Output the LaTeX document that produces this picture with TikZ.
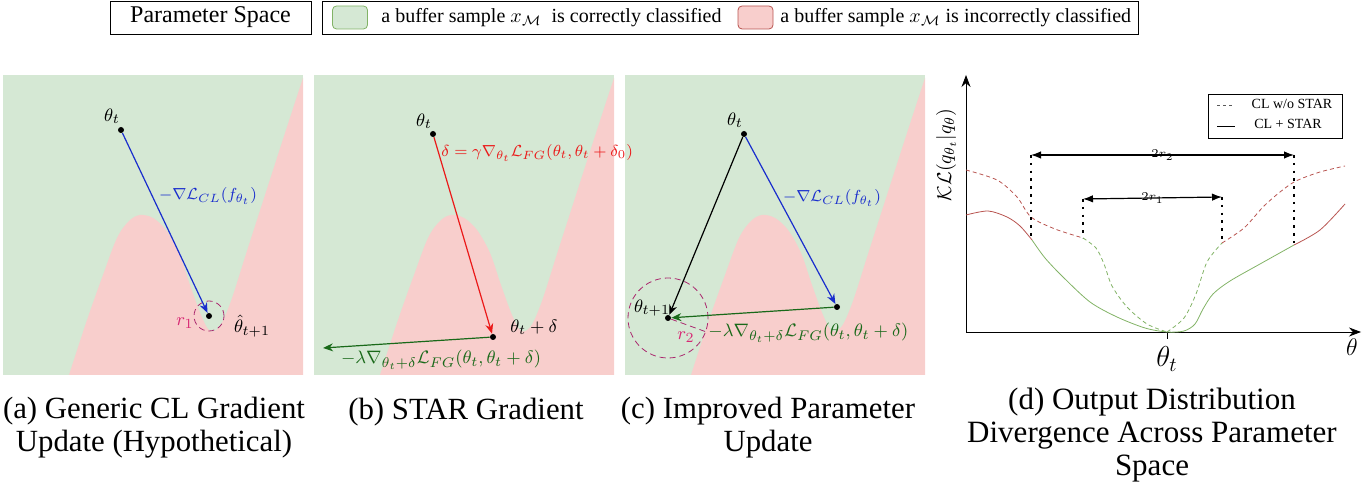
\documentclass[tikz,border=0pt]{standalone}
\usepackage{fontspec}
\setmainfont{Liberation Serif}
\usepackage{amsmath}
\usepackage{xcolor}
\usepackage{tikz}
\usetikzlibrary{arrows.meta, positioning, calc}
\definecolor{okfill}{RGB}{213,232,212}
\definecolor{badfill}{RGB}{248,206,204}
\definecolor{okedge}{RGB}{130,179,102}
\definecolor{badedge}{RGB}{184,84,80}
\definecolor{radiusline}{RGB}{170,40,110}
\definecolor{radiuslabel}{RGB}{215,40,115}
\definecolor{clblue}{RGB}{25,45,205}
\definecolor{fgred}{RGB}{235,25,25}
\definecolor{fggreen}{RGB}{25,105,25}

\begin{document}
\begin{tikzpicture}[x=0.5pt, y=-0.5pt,
        dot/.style={circle, fill=black, inner sep=0pt, minimum size=3pt},
        lbl/.style={inner sep=1pt, font=\fontsize{9.5}{11}\selectfont},
        mathlbl/.style={inner sep=1pt, font=\fontsize{9.5}{11}\selectfont},
        swatch/.style={draw, rounded corners=2pt, minimum width=17.5pt, minimum height=11.5pt, inner sep=0pt},
        legtxt/.style={anchor=west, inner sep=0pt, font=\fontsize{10}{12}\selectfont},
        caption/.style={align=center, font=\fontsize{15.4}{16.5}\selectfont},
        gradarrow/.style={-{Stealth[length=5pt, width=4pt]}, semithick},
        radiusdash/.style={radiusline, dashed, dash pattern=on 3pt off 2pt},
        guide/.style={line width=1.3pt, dash pattern=on 1.3pt off 2.6pt},
        span/.style={{Latex[length=5pt]}-{Latex[length=5pt]}, semithick}]
    \useasboundingbox (0,0) rectangle (1364,490);

    % top legend
    \node[draw, minimum width=100.5pt, minimum height=16.5pt, inner sep=0pt,
          font=\fontsize{12}{14}\selectfont] (pspace) at (210.5,17.5) {Parameter Space};
    \node[draw, minimum width=408pt, minimum height=16.5pt, inner sep=0pt] (legbox) at (730,17.5) {};
    \node[swatch, draw=okedge, fill=okfill] (okswatch) at (350,17.5) {};
    \node[legtxt] (oktext) at (381,17.5) {a buffer sample $x_{\mathcal{M}}$\ \ is correctly classified};
    \node[swatch, draw=badedge, fill=badfill] (badswatch) at (755.5,17.5) {};
    \node[legtxt] (badtext) at (780,17.5) {a buffer sample $x_{\mathcal{M}}$ is incorrectly classified};

    % parameter space backgrounds
    \foreach \px in {3,314,625} {
        \begin{scope}[shift={(\px,75)}]
            \fill[okfill] (0,0) rectangle (300,300);
            \fill[badfill] plot[smooth, tension=0.55] coordinates {(66,300) (84,245) (100,200) (114,163)
                (126,146) (137,140) (150,143) (163,155) (176,178) (187,210) (198,240) (207,256)
                (217,251) (228,226) (243,179) (262,120) (282,58) (300,3)} -- (300,300) -- cycle;
        \end{scope}
    }

    % (a)
    \node[dot] (tha) at (121,130) {};
    \node[lbl] (thalbl) at (112,116) {$\theta_t$};
    \node[dot] (nxa) at (209,316) {};
    \draw[radiusdash] (nxa) circle[radius=7.5pt];
    \draw[gradarrow, clblue] (tha) -- (nxa);
    \node[mathlbl, clblue, font=\fontsize{8.5}{10}\selectfont] (cla) at (208,196) {$-\nabla\mathcal{L}_{CL}(f_{\theta_t})$};
    \node[lbl, radiuslabel] (r1lbl) at (185,323) {$r_1$};
    \node[lbl] (hatlbl) at (252,326) {$\hat{\theta}_{t+1}$};

    % (b)
    \node[dot] (thb) at (433,134) {};
    \node[lbl] (thblbl) at (424,121) {$\theta_t$};
    \node[dot] (tdb) at (493,337) {};
    \draw[gradarrow, fgred] (thb) -- (tdb);
    \node[mathlbl, fgred, anchor=west, font=\fontsize{8}{10}\selectfont] (deltab) at (439,153) {$\delta=\gamma\nabla_{\theta_t}\mathcal{L}_{FG}(\theta_t,\theta_t+\delta_0)$};
    \node[lbl] (tdblbl) at (534,327) {$\theta_t+\delta$};
    \coordinate (fgend) at (323,348);
    \draw[gradarrow, fggreen] (tdb) -- (fgend);
    \node[mathlbl, fggreen] (fgb) at (441,360) {$-\lambda\nabla_{\theta_t+\delta}\mathcal{L}_{FG}(\theta_t,\theta_t+\delta)$};

    % (c)
    \node[dot] (thc) at (744,134) {};
    \node[lbl] (thclbl) at (735,120) {$\theta_t$};
    \node[dot] (bc) at (837,307) {};
    \node[dot] (nc) at (668,318) {};
    \draw[radiusdash] (nc) circle[radius=20pt];
    \coordinate (r2end) at ($(nc)+(-20:20pt)$);
    \draw[radiusdash] (nc) -- (r2end);
    \draw[gradarrow, clblue] (thc) -- (bc);
    \draw[gradarrow, black] (thc) -- (nc);
    \draw[gradarrow, fggreen] (bc) -- (nc);
    \node[mathlbl, clblue, font=\fontsize{8.5}{10}\selectfont] (clc) at (832,198) {$-\nabla\mathcal{L}_{CL}(f_{\theta_t})$};
    \node[lbl] (nclbl) at (652,308) {$\theta_{t+1}$};
    \node[lbl, radiuslabel] (r2lbl) at (686,337) {$r_2$};
    \node[mathlbl, fggreen, anchor=west] (fgc) at (706,333) {$-\lambda\nabla_{\theta_t+\delta}\mathcal{L}_{FG}(\theta_t,\theta_t+\delta)$};

    % (d) axes
    \coordinate (origin) at (966,332);
    \coordinate (ytop) at (966,75);
    \coordinate (xend) at (1361,332);
    \draw[-{Stealth[length=6pt]}] (origin) -- (ytop);
    \draw[-{Stealth[length=6pt]}] (origin) -- (xend);
    \coordinate (tick) at (1167,332);
    \draw (tick) -- ++(0,7);
    \node[font=\fontsize{14}{16}\selectfont] (thetat) at (1167,359) {$\theta_t$};
    \node[font=\fontsize{12}{14}\selectfont] (thetax) at (1352,347) {$\theta$};
    \node[rotate=90, font=\fontsize{10}{12}\selectfont] (klbl) at (946,155) {$\mathcal{KL}(q_{\theta_t}|q_{\theta})$};

    % (d) curves, CL w/o STAR
    \draw[badedge, dashed, dash pattern=on 2pt off 1.5pt] plot[smooth] coordinates {(966,170) (997,180) (1017,197) (1031,217) (1055,229) (1083,238)};
    \draw[okedge, dashed, dash pattern=on 2pt off 1.5pt] plot[smooth] coordinates {(1083,238) (1096,248) (1104,264) (1112,286) (1127,307) (1147,324) (1167,332)};
    \draw[okedge, dashed, dash pattern=on 2pt off 1.5pt] plot[smooth] coordinates {(1167,332) (1184,318) (1196,294) (1207,262) (1222,243)};
    \draw[badedge, dashed, dash pattern=on 2pt off 1.5pt] plot[smooth] coordinates {(1222,243) (1244,228) (1263,207) (1280,192) (1296,181) (1320,172) (1345,166)};
    % (d) curves, CL + STAR
    \draw[badedge] plot[smooth] coordinates {(966,215) (988,211) (1007,217) (1020,226) (1032,240)};
    \draw[okedge] plot[smooth] coordinates {(1032,240) (1045,258) (1063,277) (1090,302) (1117,317) (1145,328) (1167,332) (1184,331) (1195,324) (1203,309) (1213,294) (1230,281) (1260,264) (1294,245)};
    \draw[badedge] plot[smooth] coordinates {(1294,245) (1320,230) (1345,204)};

    % (d) radius spans
    \coordinate (o2l) at (1031,155);
    \coordinate (o2r) at (1294,155);
    \coordinate (o1l) at (1083,199);
    \coordinate (o1r) at (1222,197);
    \draw[guide] (o2l) -- (1031,240);
    \draw[guide] (o2r) -- (1294,244);
    \draw[guide] (o1l) -- (1083,238);
    \draw[guide] (o1r) -- (1222,243);
    \draw[span] (o2l) -- (o2r) node[midway, inner sep=0pt, font=\fontsize{6.5}{8}\selectfont] (r2span) {$2r_2$};
    \draw[span] (o1l) -- (o1r) node[midway, inner sep=0pt, font=\fontsize{6.5}{8}\selectfont] (r1span) {$2r_1$};

    % (d) legend
    \node[draw, minimum width=67pt, minimum height=22pt, inner sep=0pt] (klleg) at (1275,116) {};
    \draw[gray!70!black, dashed, dash pattern=on 1.5pt off 1.5pt] (1217,105) -- (1234,105);
    \draw[black] (1217,126) -- (1235,126);
    \node[font=\fontsize{7}{8}\selectfont, inner sep=0pt] (wolbl) at (1292,104) {CL w/o STAR};
    \node[font=\fontsize{7}{8}\selectfont, inner sep=0pt] (withlbl) at (1288,124) {CL + STAR};

    % captions
    \node[caption] (capa) at (154,428) {(a) Generic CL Gradient\\Update (Hypothetical)};
    \node[caption] (capb) at (466,412) {(b) STAR Gradient};
    \node[caption] (capc) at (768,428) {(c) Improved Parameter\\Update};
    \node[caption, font=\fontsize{15.5}{16.5}\selectfont] (capd) at (1152,435) {(d) Output Distribution\\Divergence Across Parameter\\Space};
\end{tikzpicture}
\end{document}
